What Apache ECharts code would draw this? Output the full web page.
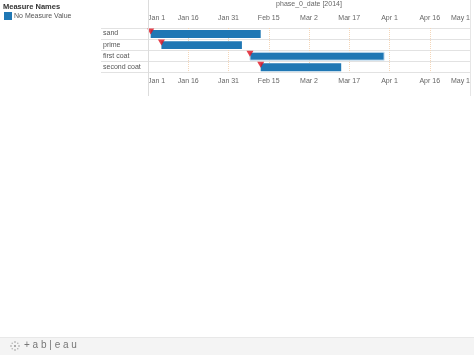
<!DOCTYPE html>
<html>
<head>
<meta charset="utf-8">
<script src="https://cdn.jsdelivr.net/npm/echarts@6/dist/echarts.min.js"></script>
<style>
html,body{margin:0;padding:0;background:#fff;}
#chart{width:474px;height:355px;}
</style>
</head>
<body>
<div id="chart"></div>
<script>
// ---- data ----
var categories = ['sand', 'prime', 'first coat', 'second coat'];
var startDates = ['2014-01-02', '2014-01-06', '2014-02-08', '2014-02-12'];
var endDates   = ['2014-02-12', '2014-02-05', '2014-03-30', '2014-03-14'];
var axisStart = '2014-01-01';
var axisEnd = '2014-05-01';
var tickStepDays = 15;
var seriesName = 'No Measure Value';
var legendTitle = 'Measure Names';
var axisTitle = 'phase_0_date [2014]';

// ---- helpers ----
var DAY = 86400000;
function toDay(s) {
  var p = s.split('-');
  var a = axisStart.split('-');
  return (Date.UTC(+p[0], +p[1] - 1, +p[2]) - Date.UTC(+a[0], +a[1] - 1, +a[2])) / DAY;
}
var MONTHS = ['Jan','Feb','Mar','Apr','May','Jun','Jul','Aug','Sep','Oct','Nov','Dec'];
function dayLabel(d) {
  if (Math.abs(d % tickStepDays) > 1e-6) return '';
  var a = axisStart.split('-');
  var dt = new Date(Date.UTC(+a[0], +a[1] - 1, +a[2]) + d * DAY);
  return MONTHS[dt.getUTCMonth()] + ' ' + dt.getUTCDate();
}

var barData = categories.map(function (c, i) {
  var item = { value: [i, toDay(startDates[i]), toDay(endDates[i])] };
  if (c === 'first coat') {
    item.itemStyle = { borderColor: '#d6e6f3', borderWidth: 1 };
  }
  return item;
});
var markerData = categories.map(function (c, i) {
  return [toDay(startDates[i]), i];
});

var FONT = '"Liberation Sans", Arial, sans-serif';
var textGray = '#666';
var lineGray = '#e2e2e2';

var chart = echarts.init(document.getElementById('chart'), null, { renderer: 'canvas' });

var xAxisBase = {
  type: 'value',
  min: toDay(axisStart),
  max: toDay(axisEnd),
  interval: tickStepDays,
  axisLine: { show: false },
  axisTick: { show: false },
  axisLabel: {
    formatter: dayLabel,
    fontSize: 7,
    fontFamily: FONT,
    color: textGray,
    alignMinLabel: 'left',
    alignMaxLabel: 'right',
    showMinLabel: true,
    showMaxLabel: true
  }
};

var option = {
  animation: false,
  backgroundColor: '#fff',
  textStyle: { fontFamily: FONT },
  title: {
    text: legendTitle,
    left: 3,
    top: 3,
    padding: 0,
    textStyle: { fontSize: 7.5, fontWeight: 'bold', color: '#333', fontFamily: FONT }
  },
  legend: {
    left: 4,
    top: 12,
    padding: 0,
    itemWidth: 8,
    itemHeight: 8,
    itemGap: 4,
    icon: 'rect',
    data: [seriesName],
    textStyle: { fontSize: 7, color: '#555', fontFamily: FONT, padding: [0, 0, 0, -3] }
  },
  grid: {
    left: 148,
    right: 4,
    top: 25.5,
    height: 46.8,
    containLabel: false
  },
  xAxis: [
    Object.assign({}, xAxisBase, {
      position: 'bottom',
      splitLine: { show: true, lineStyle: { color: '#f4d6b8', type: [1, 1], width: 1 } },
      axisLabel: Object.assign({}, xAxisBase.axisLabel, { margin: 5 })
    }),
    Object.assign({}, xAxisBase, {
      position: 'top',
      splitLine: { show: false },
      name: axisTitle,
      nameLocation: 'middle',
      nameGap: 20,
      nameTextStyle: { fontSize: 7, color: textGray, fontFamily: FONT },
      axisLabel: Object.assign({}, xAxisBase.axisLabel, { margin: 6 })
    })
  ],
  yAxis: {
    type: 'category',
    data: categories,
    inverse: true,
    axisLine: { show: false },
    axisTick: { show: true, length: 47, lineStyle: { color: lineGray } },
    splitLine: { show: true, lineStyle: { color: lineGray } },
    axisLabel: {
      align: 'left',
      margin: 45,
      fontSize: 7,
      fontFamily: FONT,
      color: '#555'
    }
  },
  series: [
    {
      name: seriesName,
      type: 'custom',
      xAxisIndex: 0,
      yAxisIndex: 0,
      itemStyle: { color: '#1f77b4' },
      encode: { x: [1, 2], y: 0 },
      renderItem: function (params, api) {
        var cat = api.value(0);
        var s = api.coord([api.value(1), cat]);
        var e = api.coord([api.value(2), cat]);
        var h = api.size([0, 1])[1] * 0.72;
        return {
          type: 'rect',
          shape: { x: s[0], y: s[1] - h / 2 + 0.5, width: e[0] - s[0], height: h },
          style: api.style()
        };
      },
      data: barData,
      z: 2
    },
    {
      name: 'start',
      type: 'scatter',
      xAxisIndex: 0,
      yAxisIndex: 0,
      symbol: 'path://M0,0L10,0L5,9Z',
      symbolSize: [7, 6],
      symbolOffset: [0, -2],
      itemStyle: { color: '#e0101e' },
      data: markerData,
      z: 5
    }
  ],
  graphic: [
    { type: 'line', shape: { x1: 148.5, y1: 0, x2: 148.5, y2: 96 }, style: { stroke: '#dcdcdc', lineWidth: 1 }, z: 10 },
    { type: 'line', shape: { x1: 470.5, y1: 0, x2: 470.5, y2: 96 }, style: { stroke: '#e6e6e6', lineWidth: 1 }, z: 10 },
    { type: 'rect', shape: { x: 0, y: 337, width: 474, height: 18 }, style: { fill: '#f4f4f4' }, z: 0 },
    { type: 'line', shape: { x1: 0, y1: 337.5, x2: 474, y2: 337.5 }, style: { stroke: '#e8e8e8', lineWidth: 1 } },
    {
      type: 'group',
      children: [
        { type: 'circle', shape: { cx: 15, cy: 342, r: 0.8 }, style: { fill: '#999' } },
        { type: 'circle', shape: { cx: 15, cy: 350, r: 0.8 }, style: { fill: '#999' } },
        { type: 'circle', shape: { cx: 11, cy: 346, r: 0.8 }, style: { fill: '#999' } },
        { type: 'circle', shape: { cx: 19, cy: 346, r: 0.8 }, style: { fill: '#999' } },
        { type: 'circle', shape: { cx: 12.2, cy: 343.2, r: 0.7 }, style: { fill: '#aaa' } },
        { type: 'circle', shape: { cx: 17.8, cy: 343.2, r: 0.7 }, style: { fill: '#aaa' } },
        { type: 'circle', shape: { cx: 12.2, cy: 348.8, r: 0.7 }, style: { fill: '#aaa' } },
        { type: 'circle', shape: { cx: 17.8, cy: 348.8, r: 0.7 }, style: { fill: '#aaa' } },
        { type: 'circle', shape: { cx: 15, cy: 346, r: 0.9 }, style: { fill: '#888' } }
      ]
    },
    {
      type: 'text',
      left: 24,
      top: 340,
      style: { text: '+ a b | e a u', fontSize: 10, fill: '#777', fontFamily: FONT }
    }
  ]
};

chart.setOption(option);
</script>
</body>
</html>
